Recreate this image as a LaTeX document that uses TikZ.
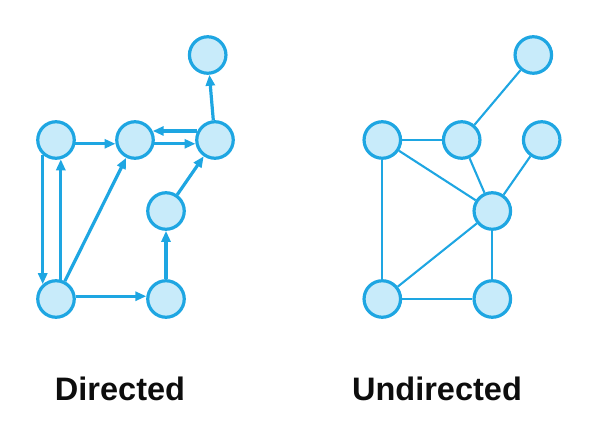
\documentclass[tikz,border=0pt]{standalone}
\usepackage{fontspec}
\setmainfont{Liberation Sans}
\usetikzlibrary{arrows.meta}
\definecolor{gstroke}{RGB}{30,166,226}
\definecolor{gfill}{RGB}{200,235,250}
\begin{document}
\begin{tikzpicture}[x=1pt,y=-1pt,
  vert/.style={circle,draw=gstroke,fill=gfill,line width=3.2pt,minimum size=36.5pt,inner sep=0pt},
  darc/.style={draw=gstroke,line width=3.2pt,-{Triangle[length=11pt,width=9pt]}},
  uarc/.style={draw=gstroke,line width=2.1pt},
  title/.style={font=\bfseries\fontsize{32.5}{36}\selectfont,text=black!95,anchor=base}]
\useasboundingbox (0,0) rectangle (591,427);
% Directed
\node[vert] (dT) at (207.7,55) {};
\node[vert] (dA) at (56,140) {};
\node[vert] (dB) at (135,140) {};
\node[vert] (dC) at (215,140) {};
\node[vert] (dD) at (166,211) {};
\node[vert] (dE) at (56,299) {};
\node[vert] (dF) at (166,299) {};
\draw[darc] (dA.-11) -- (dB.191);
\draw[darc] (dB.-11) -- (dC.191);
\draw[darc] (dC.153) -- (dB.27);
\draw[darc] (dA.228) -- (dE.132);
\draw[darc] (dE.76) -- (dA.284);
\draw[darc] (dE) -- (dB);
\draw[darc] (dE.8) -- (dF.172);
\draw[darc] (dF) -- (dD);
\draw[darc] (dD) -- (dC);
\draw[darc] (dC) -- (dT);
% Undirected
\node[vert] (uT) at (533.3,55) {};
\node[vert] (uA) at (382.3,140) {};
\node[vert] (uB) at (461.7,140) {};
\node[vert] (uC) at (541.7,140) {};
\node[vert] (uD) at (492.3,211) {};
\node[vert] (uE) at (382.3,299) {};
\node[vert] (uF) at (492.3,299) {};
\path[uarc] (uA) -- (uB);
\path[uarc] (uA) -- (uD);
\path[uarc] (uA) -- (uE);
\path[uarc] (uB) -- (uT);
\path[uarc] (uB) -- (uD);
\path[uarc] (uC) -- (uD);
\path[uarc] (uD) -- (uE);
\path[uarc] (uD) -- (uF);
\path[uarc] (uE) -- (uF);
% Titles
\node[title] (tD) at (120,400) {Directed};
\node[title] (tU) at (437,400) {Undirected};
\end{tikzpicture}
\end{document}
